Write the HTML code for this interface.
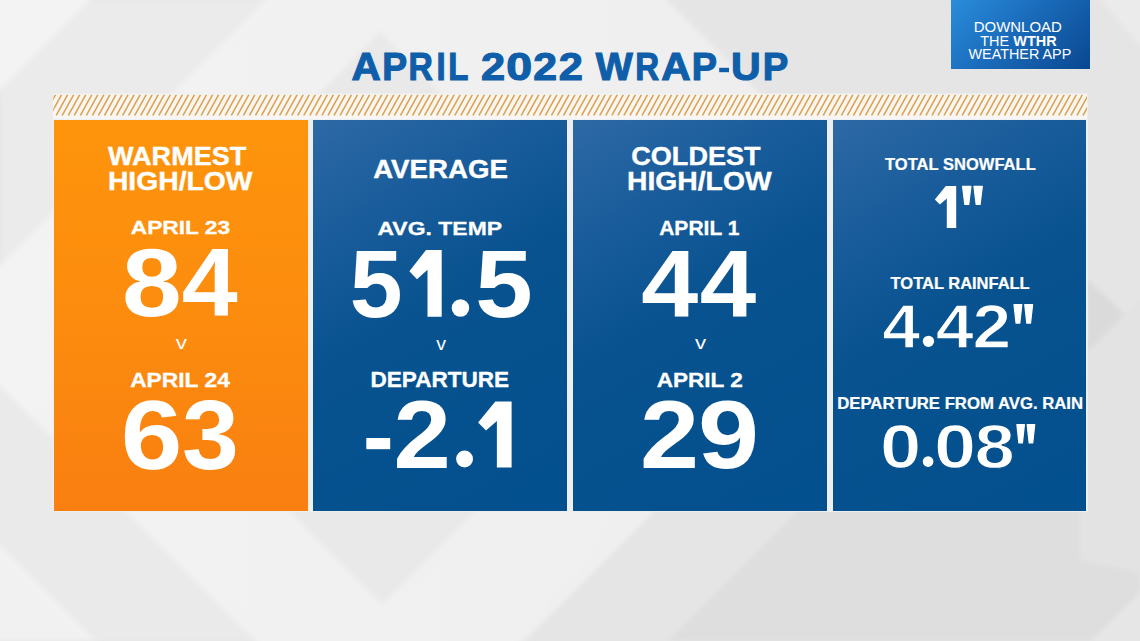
<!DOCTYPE html>
<html><head><meta charset="utf-8">
<style>
html,body{margin:0;padding:0;}
body{width:1140px;height:641px;position:relative;overflow:hidden;background:#e6e6e6;font-family:"Liberation Sans",sans-serif;}
.bg{position:absolute;left:0;top:0;width:1140px;height:641px;}
.box{position:absolute;top:120px;height:390.5px;}
.orange{background:linear-gradient(180deg,#fe940c 0%,#fc8c0e 50%,#f97f11 100%);}
.blue{background:linear-gradient(150deg,#2d69a5 0%,#1b5d9c 22%,#07528f 48%,#03508e 100%);}
.btn{position:absolute;left:951px;top:0;width:139px;height:68.7px;background:linear-gradient(135deg,#2a8ddb 0%,#1a6cbb 45%,#0a4790 100%);}
.t{position:absolute;left:0;top:0;font-size:100px;line-height:100px;white-space:nowrap;transform-origin:0 0;}
.hatch{position:absolute;left:0;top:0;}
</style></head><body>
<svg class="bg" width="1140" height="641" viewBox="0 0 1140 641">
<defs>
<filter id="bl" x="-5%" y="-5%" width="110%" height="110%"><feGaussianBlur stdDeviation="2.5"/></filter>
<linearGradient id="lg" x1="0" y1="0" x2="1140" y2="0" gradientUnits="userSpaceOnUse">
<stop offset="0" stop-color="#f3f3f3"/><stop offset="0.5" stop-color="#f0f0f0"/><stop offset="1" stop-color="#ebebeb"/>
</linearGradient>
</defs>
<rect width="1140" height="641" fill="#e5e5e5"/>
<g filter="url(#bl)">
<!-- L region -->
<polygon points="466,-201 913.5,246.5 387,773 -60.5,325.5" fill="url(#lg)"/>
<!-- top-left corner light: u<90 -->
<polygon points="-10,-10 100,-10 -10,100" fill="#f3f3f3"/>
<!-- band 90<u<265 medium -->
<polygon points="90,0 265,0 0,265 0,90" fill="#ebebeb"/>
<!-- band v in [386,545] -->
<polygon points="-10,376 255,641 96,641 -10,535" fill="#eaeaea"/>
<polygon points="-10,535 96,641 -10,641" fill="#f1f1f1"/>
<!-- diamond -->
<polygon points="380,32 667,319 382.5,604.5 96,318" fill="#e9e9e9"/>
<!-- light line u=1160 -->
<line x1="672" y1="488" x2="519" y2="641" stroke="#efefef" stroke-width="8"/>
<!-- right region u>1309 -->
<polygon points="1140,169 1140,641 668,641" fill="#dedede"/>
<!-- upper right v<-667 over right part -->
<polygon points="667,0 1150,0 1150,483" fill="#e5e5e5"/>
<polygon points="1080,359 1150,289 1150,575 1080,560" fill="#e3e3e3"/>
<polygon points="1086,278 1125,314.5 1086,353" fill="#dadada"/>
<polygon points="1093,-10 1150,-10 1150,57" fill="#ebebeb"/>
<!-- bottom-right corner lighter u>1732 -->
<polygon points="1150,582 1150,651 1081,651" fill="#e6e6e6"/>
</g>
</svg>
<svg class="hatch" width="1140" height="641" viewBox="0 0 1140 641">
<defs><clipPath id="hc"><rect x="53.3" y="94.4" width="1033.7" height="21.3"/></clipPath>
<linearGradient id="hg" x1="0" y1="0" x2="0" y2="1"><stop offset="0" stop-color="#f3f1f1"/><stop offset="0.1" stop-color="#faf5ef"/><stop offset="0.85" stop-color="#faf6f1"/><stop offset="1" stop-color="#f4f5f8"/></linearGradient></defs>
<rect x="53" y="93.5" width="1034.5" height="26.5" fill="url(#hg)"/>
<g clip-path="url(#hc)" stroke="#d9a152" stroke-width="1.5"><line x1="25.88" y1="115.6" x2="37.48" y2="94.6" /><line x1="31.92" y1="115.6" x2="43.52" y2="94.6" /><line x1="37.96" y1="115.6" x2="49.56" y2="94.6" /><line x1="44.00" y1="115.6" x2="55.60" y2="94.6" /><line x1="50.04" y1="115.6" x2="61.64" y2="94.6" /><line x1="56.08" y1="115.6" x2="67.68" y2="94.6" /><line x1="62.12" y1="115.6" x2="73.72" y2="94.6" /><line x1="68.16" y1="115.6" x2="79.76" y2="94.6" /><line x1="74.20" y1="115.6" x2="85.80" y2="94.6" /><line x1="80.24" y1="115.6" x2="91.84" y2="94.6" /><line x1="86.28" y1="115.6" x2="97.88" y2="94.6" /><line x1="92.32" y1="115.6" x2="103.92" y2="94.6" /><line x1="98.36" y1="115.6" x2="109.96" y2="94.6" /><line x1="104.40" y1="115.6" x2="116.00" y2="94.6" /><line x1="110.44" y1="115.6" x2="122.04" y2="94.6" /><line x1="116.48" y1="115.6" x2="128.08" y2="94.6" /><line x1="122.52" y1="115.6" x2="134.12" y2="94.6" /><line x1="128.56" y1="115.6" x2="140.16" y2="94.6" /><line x1="134.60" y1="115.6" x2="146.20" y2="94.6" /><line x1="140.64" y1="115.6" x2="152.24" y2="94.6" /><line x1="146.68" y1="115.6" x2="158.28" y2="94.6" /><line x1="152.72" y1="115.6" x2="164.32" y2="94.6" /><line x1="158.76" y1="115.6" x2="170.36" y2="94.6" /><line x1="164.80" y1="115.6" x2="176.40" y2="94.6" /><line x1="170.84" y1="115.6" x2="182.44" y2="94.6" /><line x1="176.88" y1="115.6" x2="188.48" y2="94.6" /><line x1="182.92" y1="115.6" x2="194.52" y2="94.6" /><line x1="188.96" y1="115.6" x2="200.56" y2="94.6" /><line x1="195.00" y1="115.6" x2="206.60" y2="94.6" /><line x1="201.04" y1="115.6" x2="212.64" y2="94.6" /><line x1="207.08" y1="115.6" x2="218.68" y2="94.6" /><line x1="213.12" y1="115.6" x2="224.72" y2="94.6" /><line x1="219.16" y1="115.6" x2="230.76" y2="94.6" /><line x1="225.20" y1="115.6" x2="236.80" y2="94.6" /><line x1="231.24" y1="115.6" x2="242.84" y2="94.6" /><line x1="237.28" y1="115.6" x2="248.88" y2="94.6" /><line x1="243.32" y1="115.6" x2="254.92" y2="94.6" /><line x1="249.36" y1="115.6" x2="260.96" y2="94.6" /><line x1="255.40" y1="115.6" x2="267.00" y2="94.6" /><line x1="261.44" y1="115.6" x2="273.04" y2="94.6" /><line x1="267.48" y1="115.6" x2="279.08" y2="94.6" /><line x1="273.52" y1="115.6" x2="285.12" y2="94.6" /><line x1="279.56" y1="115.6" x2="291.16" y2="94.6" /><line x1="285.60" y1="115.6" x2="297.20" y2="94.6" /><line x1="291.64" y1="115.6" x2="303.24" y2="94.6" /><line x1="297.68" y1="115.6" x2="309.28" y2="94.6" /><line x1="303.72" y1="115.6" x2="315.32" y2="94.6" /><line x1="309.76" y1="115.6" x2="321.36" y2="94.6" /><line x1="315.80" y1="115.6" x2="327.40" y2="94.6" /><line x1="321.84" y1="115.6" x2="333.44" y2="94.6" /><line x1="327.88" y1="115.6" x2="339.48" y2="94.6" /><line x1="333.92" y1="115.6" x2="345.52" y2="94.6" /><line x1="339.96" y1="115.6" x2="351.56" y2="94.6" /><line x1="346.00" y1="115.6" x2="357.60" y2="94.6" /><line x1="352.04" y1="115.6" x2="363.64" y2="94.6" /><line x1="358.08" y1="115.6" x2="369.68" y2="94.6" /><line x1="364.12" y1="115.6" x2="375.72" y2="94.6" /><line x1="370.16" y1="115.6" x2="381.76" y2="94.6" /><line x1="376.20" y1="115.6" x2="387.80" y2="94.6" /><line x1="382.24" y1="115.6" x2="393.84" y2="94.6" /><line x1="388.28" y1="115.6" x2="399.88" y2="94.6" /><line x1="394.32" y1="115.6" x2="405.92" y2="94.6" /><line x1="400.36" y1="115.6" x2="411.96" y2="94.6" /><line x1="406.40" y1="115.6" x2="418.00" y2="94.6" /><line x1="412.44" y1="115.6" x2="424.04" y2="94.6" /><line x1="418.48" y1="115.6" x2="430.08" y2="94.6" /><line x1="424.52" y1="115.6" x2="436.12" y2="94.6" /><line x1="430.56" y1="115.6" x2="442.16" y2="94.6" /><line x1="436.60" y1="115.6" x2="448.20" y2="94.6" /><line x1="442.64" y1="115.6" x2="454.24" y2="94.6" /><line x1="448.68" y1="115.6" x2="460.28" y2="94.6" /><line x1="454.72" y1="115.6" x2="466.32" y2="94.6" /><line x1="460.76" y1="115.6" x2="472.36" y2="94.6" /><line x1="466.80" y1="115.6" x2="478.40" y2="94.6" /><line x1="472.84" y1="115.6" x2="484.44" y2="94.6" /><line x1="478.88" y1="115.6" x2="490.48" y2="94.6" /><line x1="484.92" y1="115.6" x2="496.52" y2="94.6" /><line x1="490.96" y1="115.6" x2="502.56" y2="94.6" /><line x1="497.00" y1="115.6" x2="508.60" y2="94.6" /><line x1="503.04" y1="115.6" x2="514.64" y2="94.6" /><line x1="509.08" y1="115.6" x2="520.68" y2="94.6" /><line x1="515.12" y1="115.6" x2="526.72" y2="94.6" /><line x1="521.16" y1="115.6" x2="532.76" y2="94.6" /><line x1="527.20" y1="115.6" x2="538.80" y2="94.6" /><line x1="533.24" y1="115.6" x2="544.84" y2="94.6" /><line x1="539.28" y1="115.6" x2="550.88" y2="94.6" /><line x1="545.32" y1="115.6" x2="556.92" y2="94.6" /><line x1="551.36" y1="115.6" x2="562.96" y2="94.6" /><line x1="557.40" y1="115.6" x2="569.00" y2="94.6" /><line x1="563.44" y1="115.6" x2="575.04" y2="94.6" /><line x1="569.48" y1="115.6" x2="581.08" y2="94.6" /><line x1="575.52" y1="115.6" x2="587.12" y2="94.6" /><line x1="581.56" y1="115.6" x2="593.16" y2="94.6" /><line x1="587.60" y1="115.6" x2="599.20" y2="94.6" /><line x1="593.64" y1="115.6" x2="605.24" y2="94.6" /><line x1="599.68" y1="115.6" x2="611.28" y2="94.6" /><line x1="605.72" y1="115.6" x2="617.32" y2="94.6" /><line x1="611.76" y1="115.6" x2="623.36" y2="94.6" /><line x1="617.80" y1="115.6" x2="629.40" y2="94.6" /><line x1="623.84" y1="115.6" x2="635.44" y2="94.6" /><line x1="629.88" y1="115.6" x2="641.48" y2="94.6" /><line x1="635.92" y1="115.6" x2="647.52" y2="94.6" /><line x1="641.96" y1="115.6" x2="653.56" y2="94.6" /><line x1="648.00" y1="115.6" x2="659.60" y2="94.6" /><line x1="654.04" y1="115.6" x2="665.64" y2="94.6" /><line x1="660.08" y1="115.6" x2="671.68" y2="94.6" /><line x1="666.12" y1="115.6" x2="677.72" y2="94.6" /><line x1="672.16" y1="115.6" x2="683.76" y2="94.6" /><line x1="678.20" y1="115.6" x2="689.80" y2="94.6" /><line x1="684.24" y1="115.6" x2="695.84" y2="94.6" /><line x1="690.28" y1="115.6" x2="701.88" y2="94.6" /><line x1="696.32" y1="115.6" x2="707.92" y2="94.6" /><line x1="702.36" y1="115.6" x2="713.96" y2="94.6" /><line x1="708.40" y1="115.6" x2="720.00" y2="94.6" /><line x1="714.44" y1="115.6" x2="726.04" y2="94.6" /><line x1="720.48" y1="115.6" x2="732.08" y2="94.6" /><line x1="726.52" y1="115.6" x2="738.12" y2="94.6" /><line x1="732.56" y1="115.6" x2="744.16" y2="94.6" /><line x1="738.60" y1="115.6" x2="750.20" y2="94.6" /><line x1="744.64" y1="115.6" x2="756.24" y2="94.6" /><line x1="750.68" y1="115.6" x2="762.28" y2="94.6" /><line x1="756.72" y1="115.6" x2="768.32" y2="94.6" /><line x1="762.76" y1="115.6" x2="774.36" y2="94.6" /><line x1="768.80" y1="115.6" x2="780.40" y2="94.6" /><line x1="774.84" y1="115.6" x2="786.44" y2="94.6" /><line x1="780.88" y1="115.6" x2="792.48" y2="94.6" /><line x1="786.92" y1="115.6" x2="798.52" y2="94.6" /><line x1="792.96" y1="115.6" x2="804.56" y2="94.6" /><line x1="799.00" y1="115.6" x2="810.60" y2="94.6" /><line x1="805.04" y1="115.6" x2="816.64" y2="94.6" /><line x1="811.08" y1="115.6" x2="822.68" y2="94.6" /><line x1="817.12" y1="115.6" x2="828.72" y2="94.6" /><line x1="823.16" y1="115.6" x2="834.76" y2="94.6" /><line x1="829.20" y1="115.6" x2="840.80" y2="94.6" /><line x1="835.24" y1="115.6" x2="846.84" y2="94.6" /><line x1="841.28" y1="115.6" x2="852.88" y2="94.6" /><line x1="847.32" y1="115.6" x2="858.92" y2="94.6" /><line x1="853.36" y1="115.6" x2="864.96" y2="94.6" /><line x1="859.40" y1="115.6" x2="871.00" y2="94.6" /><line x1="865.44" y1="115.6" x2="877.04" y2="94.6" /><line x1="871.48" y1="115.6" x2="883.08" y2="94.6" /><line x1="877.52" y1="115.6" x2="889.12" y2="94.6" /><line x1="883.56" y1="115.6" x2="895.16" y2="94.6" /><line x1="889.60" y1="115.6" x2="901.20" y2="94.6" /><line x1="895.64" y1="115.6" x2="907.24" y2="94.6" /><line x1="901.68" y1="115.6" x2="913.28" y2="94.6" /><line x1="907.72" y1="115.6" x2="919.32" y2="94.6" /><line x1="913.76" y1="115.6" x2="925.36" y2="94.6" /><line x1="919.80" y1="115.6" x2="931.40" y2="94.6" /><line x1="925.84" y1="115.6" x2="937.44" y2="94.6" /><line x1="931.88" y1="115.6" x2="943.48" y2="94.6" /><line x1="937.92" y1="115.6" x2="949.52" y2="94.6" /><line x1="943.96" y1="115.6" x2="955.56" y2="94.6" /><line x1="950.00" y1="115.6" x2="961.60" y2="94.6" /><line x1="956.04" y1="115.6" x2="967.64" y2="94.6" /><line x1="962.08" y1="115.6" x2="973.68" y2="94.6" /><line x1="968.12" y1="115.6" x2="979.72" y2="94.6" /><line x1="974.16" y1="115.6" x2="985.76" y2="94.6" /><line x1="980.20" y1="115.6" x2="991.80" y2="94.6" /><line x1="986.24" y1="115.6" x2="997.84" y2="94.6" /><line x1="992.28" y1="115.6" x2="1003.88" y2="94.6" /><line x1="998.32" y1="115.6" x2="1009.92" y2="94.6" /><line x1="1004.36" y1="115.6" x2="1015.96" y2="94.6" /><line x1="1010.40" y1="115.6" x2="1022.00" y2="94.6" /><line x1="1016.44" y1="115.6" x2="1028.04" y2="94.6" /><line x1="1022.48" y1="115.6" x2="1034.08" y2="94.6" /><line x1="1028.52" y1="115.6" x2="1040.12" y2="94.6" /><line x1="1034.56" y1="115.6" x2="1046.16" y2="94.6" /><line x1="1040.60" y1="115.6" x2="1052.20" y2="94.6" /><line x1="1046.64" y1="115.6" x2="1058.24" y2="94.6" /><line x1="1052.68" y1="115.6" x2="1064.28" y2="94.6" /><line x1="1058.72" y1="115.6" x2="1070.32" y2="94.6" /><line x1="1064.76" y1="115.6" x2="1076.36" y2="94.6" /><line x1="1070.80" y1="115.6" x2="1082.40" y2="94.6" /><line x1="1076.84" y1="115.6" x2="1088.44" y2="94.6" /><line x1="1082.88" y1="115.6" x2="1094.48" y2="94.6" /><line x1="1088.92" y1="115.6" x2="1100.52" y2="94.6" /></g>
</svg>
<div style="position:absolute;left:52.5px;top:119px;width:1035px;height:392.5px;background:#eeeff1"></div>
<div class="box orange" style="left:53.5px;width:254.3px"></div>
<div class="box blue" style="left:313.2px;width:254.1px"></div>
<div class="box blue" style="left:572.9px;width:253.9px"></div>
<div class="box blue" style="left:832.5px;width:253.8px"></div>
<div class="btn"></div>
<div class="t" style="font-weight:normal;color:#fff;transform:translate(973.81px,19.92px) scale(0.1493,0.1451)">DOWNLOAD</div>
<div class="t" style="font-weight:normal;color:#fff;transform:translate(980.21px,33.04px) scale(0.1449,0.1536)">THE <b>WTHR</b></div>
<div class="t" style="font-weight:normal;color:#fff;transform:translate(968.56px,46.63px) scale(0.1436,0.1478)">WEATHER APP</div>
<div class="t" style="font-weight:bold;color:#fff;-webkit-text-stroke:1.5px #fff;transform:translate(108.07px,143.19px) scale(0.2703,0.2575)">WARMEST</div>
<div class="t" style="font-weight:bold;color:#fff;-webkit-text-stroke:1.5px #fff;transform:translate(107.90px,168.51px) scale(0.2830,0.2562)">HIGH/LOW</div>
<div class="t" style="font-weight:bold;color:#fff;-webkit-text-stroke:1.5px #fff;transform:translate(130.75px,218.12px) scale(0.2273,0.1918)">APRIL 23</div>
<div class="t" style="font-weight:normal;color:#fff;transform:translate(175.68px,334.26px) scale(0.2250,0.1792)">v</div>
<div class="t" style="font-weight:bold;color:#fff;-webkit-text-stroke:1.5px #fff;transform:translate(130.14px,370.26px) scale(0.2280,0.2028)">APRIL 24</div>
<div class="t" style="font-weight:bold;color:#fff;-webkit-text-stroke:1.5px #fff;transform:translate(373.15px,156.04px) scale(0.2768,0.2616)">AVERAGE</div>
<div class="t" style="font-weight:bold;color:#fff;-webkit-text-stroke:1.5px #fff;transform:translate(377.44px,218.82px) scale(0.2297,0.1918)">AVG. TEMP</div>
<div class="t" style="font-weight:normal;color:#fff;transform:translate(436.20px,334.52px) scale(0.1958,0.1774)">v</div>
<div class="t" style="font-weight:bold;color:#fff;-webkit-text-stroke:1.5px #fff;transform:translate(370.45px,368.97px) scale(0.2256,0.2153)">DEPARTURE</div>
<div class="t" style="font-weight:bold;color:#fff;-webkit-text-stroke:1.5px #fff;transform:translate(631.29px,143.14px) scale(0.2705,0.2616)">COLDEST</div>
<div class="t" style="font-weight:bold;color:#fff;-webkit-text-stroke:1.5px #fff;transform:translate(627.00px,168.51px) scale(0.2830,0.2562)">HIGH/LOW</div>
<div class="t" style="font-weight:bold;color:#fff;-webkit-text-stroke:1.5px #fff;transform:translate(659.18px,217.76px) scale(0.2103,0.2028)">APRIL 1</div>
<div class="t" style="font-weight:normal;color:#fff;transform:translate(694.88px,333.94px) scale(0.2229,0.1830)">v</div>
<div class="t" style="font-weight:bold;color:#fff;-webkit-text-stroke:1.5px #fff;transform:translate(656.65px,369.78px) scale(0.2255,0.2083)">APRIL 2</div>
<div class="t" style="font-weight:bold;color:#fff;-webkit-text-stroke:1.5px #fff;transform:translate(885.00px,156.58px) scale(0.1655,0.1589)">TOTAL SNOWFALL</div>
<div class="t" style="font-weight:bold;color:#fff;-webkit-text-stroke:1.5px #fff;transform:translate(890.60px,275.89px) scale(0.1647,0.1575)">TOTAL RAINFALL</div>
<div class="t" style="font-weight:bold;color:#fff;-webkit-text-stroke:1.5px #fff;transform:translate(837.20px,395.31px) scale(0.1672,0.1562)">DEPARTURE FROM AVG. RAIN</div>
<div class="t" style="font-weight:bold;color:#fff;transform:translate(122.08px,234.26px) scale(1.0735,0.9652)">8</div>
<div class="t" style="font-weight:bold;color:#fff;transform:translate(181.69px,234.26px) scale(1.0057,0.9652)">4</div>
<div class="t" style="font-weight:bold;color:#fff;transform:translate(120.87px,385.89px) scale(1.1083,0.9754)">6</div>
<div class="t" style="font-weight:bold;color:#fff;transform:translate(182.06px,385.89px) scale(1.0220,0.9754)">3</div>
<div class="t" style="font-weight:bold;color:#fff;transform:translate(349.65px,234.53px) scale(0.9500,0.9667)">5</div>
<div class="t" style="font-weight:bold;color:#fff;transform:translate(475.20px,234.53px) scale(1.0340,0.9667)">5</div>
<div class="t" style="font-weight:bold;color:#fff;transform:translate(393.41px,386.20px) scale(1.0306,0.9565)">2</div>
<div class="t" style="font-weight:bold;color:#fff;transform:translate(641.25px,235.11px) scale(1.0245,0.9493)">4</div>
<div class="t" style="font-weight:bold;color:#fff;transform:translate(699.67px,235.11px) scale(1.0151,0.9493)">4</div>
<div class="t" style="font-weight:bold;color:#fff;transform:translate(640.12px,386.03px) scale(1.0612,0.9667)">2</div>
<div class="t" style="font-weight:bold;color:#fff;transform:translate(697.91px,386.03px) scale(1.0979,0.9667)">9</div>
<div class="t" style="font-weight:bold;color:#fff;-webkit-text-stroke:2.0px #0b5491;transform:translate(882.35px,293.59px) scale(0.6824,0.6358)">4</div>
<div class="t" style="font-weight:bold;color:#fff;-webkit-text-stroke:2.0px #07528f;transform:translate(935.65px,293.59px) scale(0.6824,0.6358)">4</div>
<div class="t" style="font-weight:bold;color:#fff;-webkit-text-stroke:2.0px #07528f;transform:translate(972.52px,293.59px) scale(0.6957,0.6358)">2</div>
<div class="t" style="font-weight:bold;color:#fff;-webkit-text-stroke:2.0px #05518e;transform:translate(879.99px,413.49px) scale(0.7422,0.6358)">0</div>
<div class="t" style="font-weight:bold;color:#fff;-webkit-text-stroke:2.0px #05518e;transform:translate(933.91px,413.49px) scale(0.7578,0.6358)">0</div>
<div class="t" style="font-weight:bold;color:#fff;-webkit-text-stroke:2.0px #05518e;transform:translate(974.60px,413.49px) scale(0.7255,0.6358)">8</div>
<div class="t" style="font-weight:bold;color:#0f5ea9;-webkit-text-stroke:3.0px #0f5ea9;transform:translate(351.39px,46.16px) scale(0.4056,0.3958)">A</div>
<div class="t" style="font-weight:bold;color:#0f5ea9;-webkit-text-stroke:3.0px #0f5ea9;transform:translate(382.13px,46.16px) scale(0.3733,0.3958)">P</div>
<div class="t" style="font-weight:bold;color:#0f5ea9;-webkit-text-stroke:3.0px #0f5ea9;transform:translate(408.61px,46.16px) scale(0.3373,0.3958)">R</div>
<div class="t" style="font-weight:bold;color:#0f5ea9;-webkit-text-stroke:3.0px #0f5ea9;transform:translate(436.46px,46.16px) scale(0.3278,0.3958)">I</div>
<div class="t" style="font-weight:bold;color:#0f5ea9;-webkit-text-stroke:3.0px #0f5ea9;transform:translate(448.15px,46.16px) scale(0.3291,0.3958)">L</div>
<div class="t" style="font-weight:bold;color:#0f5ea9;-webkit-text-stroke:3.0px #0f5ea9;transform:translate(480.93px,46.16px) scale(0.4333,0.3958)">2</div>
<div class="t" style="font-weight:bold;color:#0f5ea9;-webkit-text-stroke:3.0px #0f5ea9;transform:translate(506.27px,46.16px) scale(0.4647,0.3958)">0</div>
<div class="t" style="font-weight:bold;color:#0f5ea9;-webkit-text-stroke:3.0px #0f5ea9;transform:translate(533.15px,46.16px) scale(0.4275,0.3958)">2</div>
<div class="t" style="font-weight:bold;color:#0f5ea9;-webkit-text-stroke:3.0px #0f5ea9;transform:translate(558.63px,46.16px) scale(0.4333,0.3958)">2</div>
<div class="t" style="font-weight:bold;color:#0f5ea9;-webkit-text-stroke:3.0px #0f5ea9;transform:translate(595.68px,46.16px) scale(0.3918,0.3958)">W</div>
<div class="t" style="font-weight:bold;color:#0f5ea9;-webkit-text-stroke:3.0px #0f5ea9;transform:translate(635.15px,46.16px) scale(0.3299,0.3958)">R</div>
<div class="t" style="font-weight:bold;color:#0f5ea9;-webkit-text-stroke:3.0px #0f5ea9;transform:translate(661.19px,46.16px) scale(0.4070,0.3958)">A</div>
<div class="t" style="font-weight:bold;color:#0f5ea9;-webkit-text-stroke:3.0px #0f5ea9;transform:translate(691.81px,46.16px) scale(0.3783,0.3958)">P</div>
<div class="t" style="font-weight:bold;color:#0f5ea9;-webkit-text-stroke:3.0px #0f5ea9;transform:translate(730.94px,46.16px) scale(0.4111,0.3958)">U</div>
<div class="t" style="font-weight:bold;color:#0f5ea9;-webkit-text-stroke:3.0px #0f5ea9;transform:translate(762.78px,46.16px) scale(0.3833,0.3958)">P</div>
<svg class="hatch" width="1140" height="641" fill="#fff"><polygon points="441.70,250.00 441.70,316.70 427.50,316.70 427.50,269.68 417.00,279.21 409.39,271.34 426.00,250.00"/><circle cx="460.45" cy="307.95" r="8.75"/><rect x="366.30" y="438" width="23.90" height="11.2"/><circle cx="464.55" cy="459.05" r="8.45"/><polygon points="511.60,401.50 511.60,467.50 496.87,467.50 496.87,420.97 485.99,430.41 478.10,422.62 495.32,401.50"/><polygon points="956.20,186.10 956.20,227.90 946.80,227.90 946.80,198.43 939.86,204.41 934.83,199.48 945.82,186.10"/><polygon stroke="#fff" stroke-width="1.2" stroke-linejoin="round" points="962.60,186.40 970.93,186.40 968.73,204.40 964.80,204.40"/><polygon stroke="#fff" stroke-width="1.2" stroke-linejoin="round" points="973.97,186.40 982.30,186.40 980.10,204.40 976.17,204.40"/><circle cx="928.45" cy="341.35" r="5.65"/><polygon stroke="#fff" stroke-width="1.2" stroke-linejoin="round" points="1014.00,304.70 1021.85,304.70 1019.78,323.06 1016.07,323.06"/><polygon stroke="#fff" stroke-width="1.2" stroke-linejoin="round" points="1024.75,304.70 1032.60,304.70 1030.53,323.06 1026.82,323.06"/><circle cx="928.10" cy="461.60" r="5.30"/><polygon stroke="#fff" stroke-width="1.2" stroke-linejoin="round" points="1016.90,424.60 1024.40,424.60 1022.43,442.96 1018.87,442.96"/><polygon stroke="#fff" stroke-width="1.2" stroke-linejoin="round" points="1027.20,424.60 1034.70,424.60 1032.73,442.96 1029.17,442.96"/><rect x="719.20" y="67.8" width="9.80" height="4.4" fill="#0f5ea9"/></svg>
</body></html>
